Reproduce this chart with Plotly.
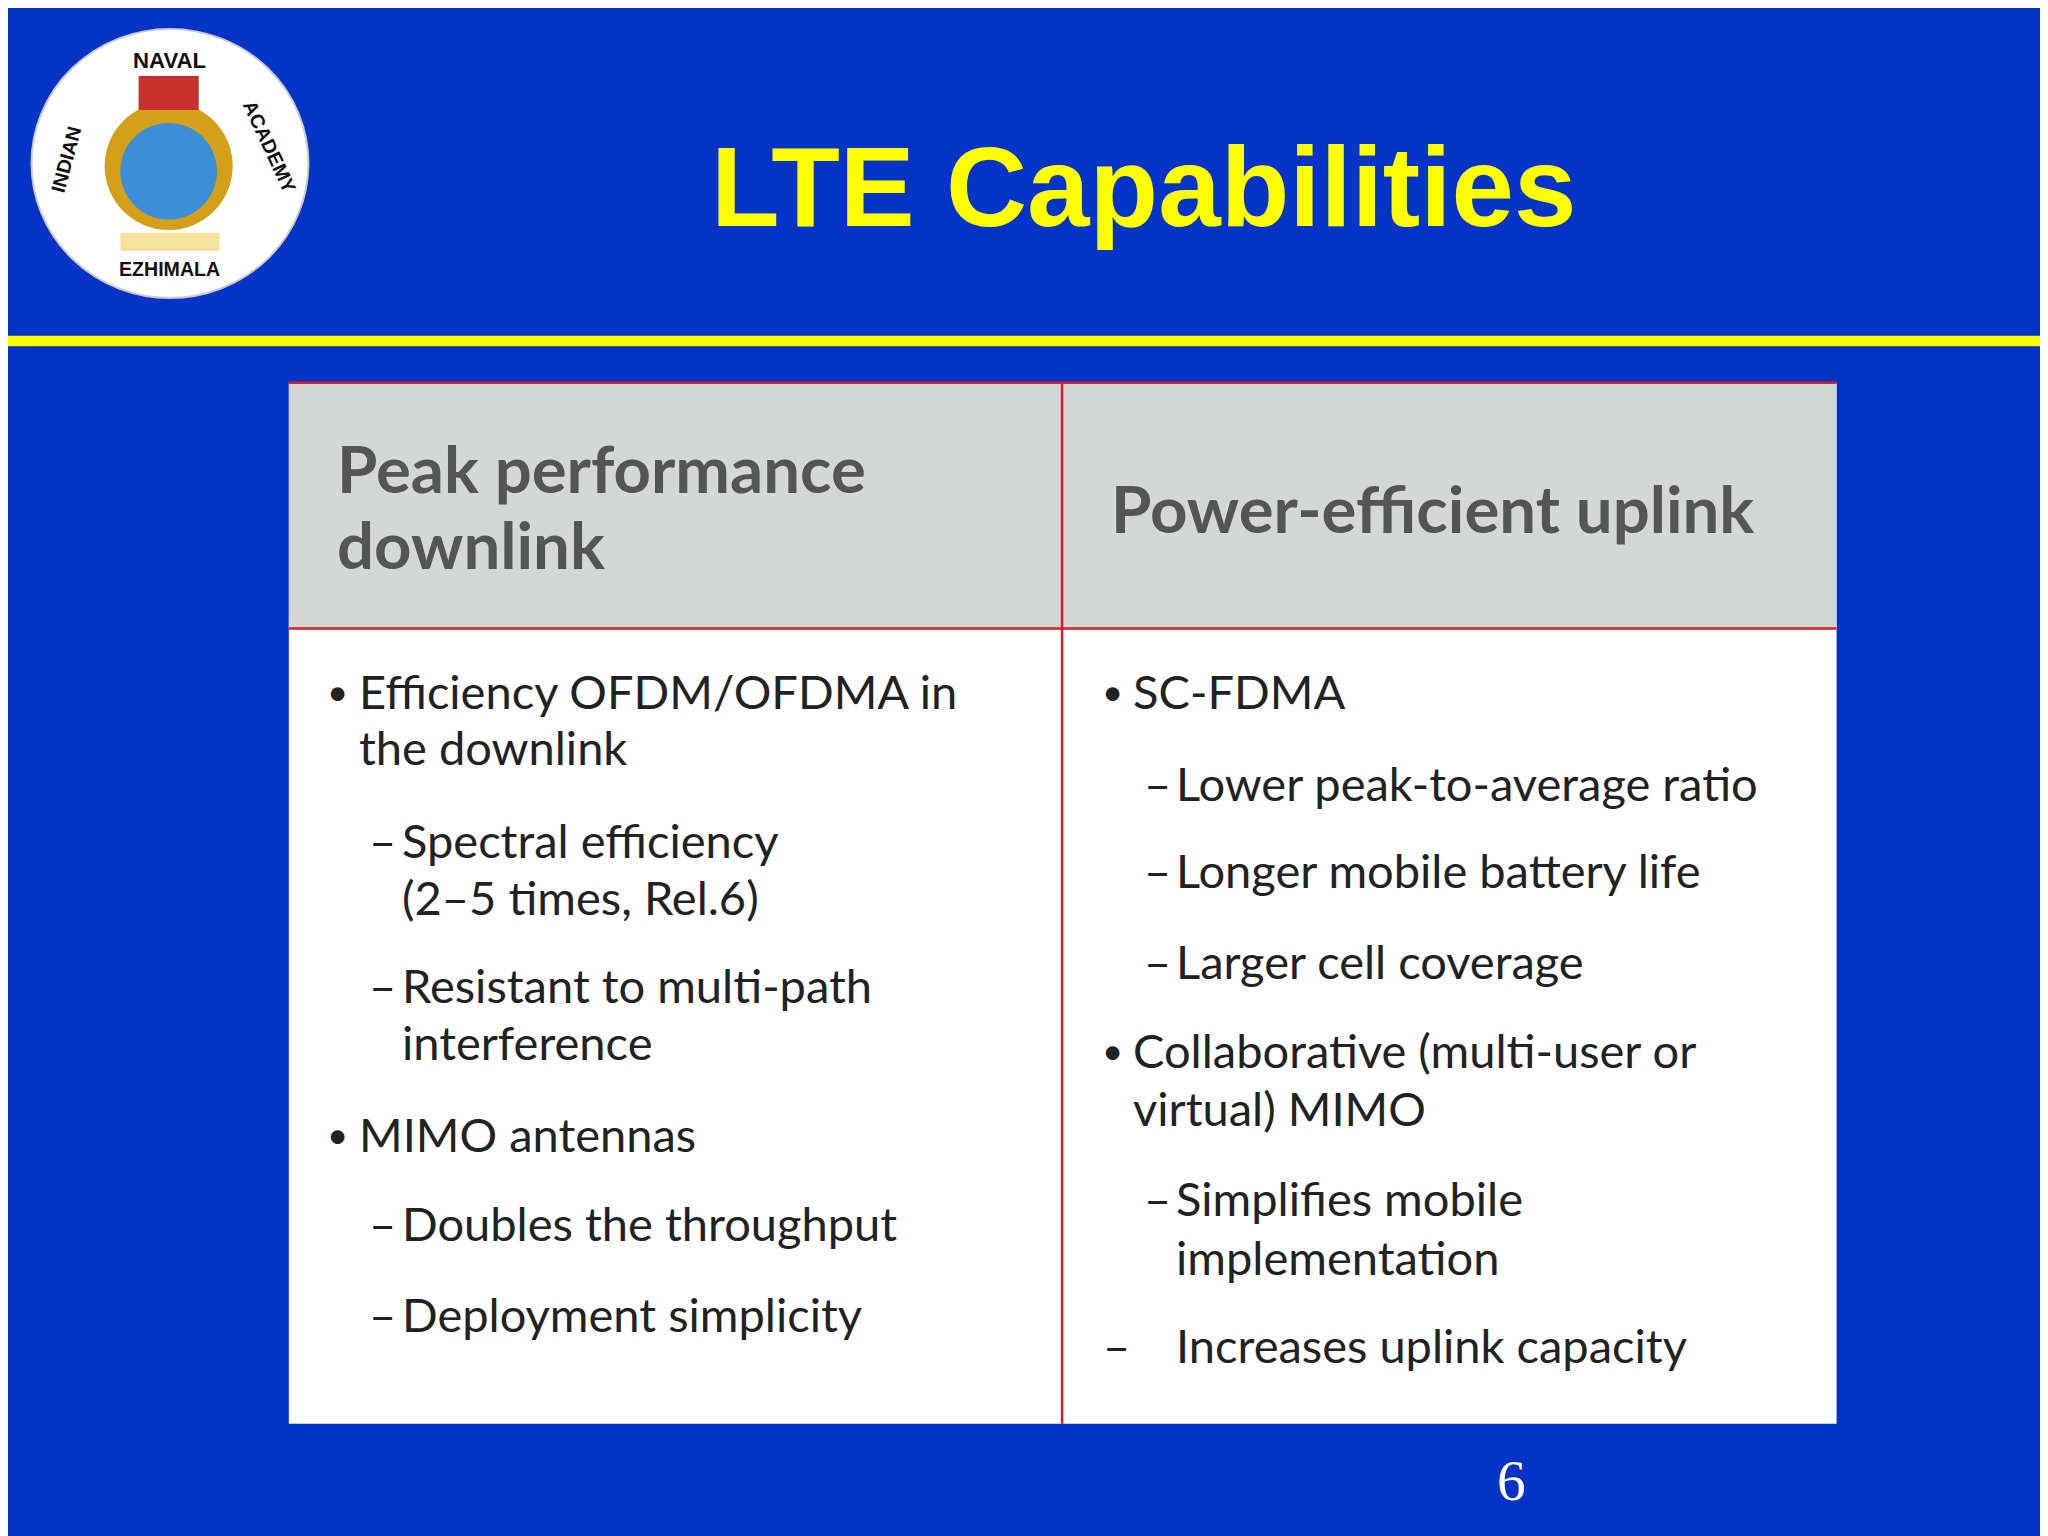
import plotly.graph_objects as go

W, H = 1568, 1176
S = 2048 / 1568
OFF = 6  # compensate page margin

title = "LTE Capabilities"
headers = [["Peak performance", "downlink"], ["Power-efficient uplink"]]
header_y = [[358, 416], [389]]
left_items = [("•", ["Efficiency OFDM/OFDMA in", "the downlink"], [529, 572]),
              ("–", ["Spectral efficiency", "(2–5 times, Rel.6)"], [643, 687]),
              ("–", ["Resistant to multi-path", "interference"], [754, 798]),
              ("•", ["MIMO antennas"], [868]),
              ("–", ["Doubles the throughput"], [936]),
              ("–", ["Deployment simplicity"], [1006])]
right_items = [("•", ["SC-FDMA"], [529]),
               ("–", ["Lower peak-to-average ratio"], [599]),
               ("–", ["Longer mobile battery life"], [666]),
               ("–", ["Larger cell coverage"], [736]),
               ("•", ["Collaborative (multi-user or", "virtual) MIMO"], [804, 848]),
               ("–", ["Simplifies mobile", "implementation"], [917, 962]),
               ("–w", ["Increases uplink capacity"], [1030])]
page_number = "6"

fig = go.Figure()
shapes = []
ann = []
BLUE = "#0433c8"
shapes.append(dict(type="rect", x0=-20, x1=W + 20, y0=-20, y1=H + 20, fillcolor=BLUE, line_width=0, layer="below"))
shapes.append(dict(type="rect", x0=-20, x1=W + 20, y0=257, y1=265, fillcolor="#ffff00", line_width=0))
# logo
shapes.append(dict(type="circle", x0=24, x1=236, y0=22, y1=228, fillcolor="white", line=dict(color="#cccccc", width=2)))
shapes.append(dict(type="circle", x0=80, x1=178, y0=78, y1=176, fillcolor="#d4a017", line_width=0))
shapes.append(dict(type="circle", x0=92, x1=166, y0=94, y1=168, fillcolor="#3a8fd8", line_width=0))
shapes.append(dict(type="rect", x0=106, x1=152, y0=58, y1=84, fillcolor="#c8302c", line_width=0))
shapes.append(dict(type="rect", x0=92, x1=168, y0=178, y1=192, fillcolor="#f2e49a", line_width=0))
ann.append(dict(x=130, y=46, text="<b>NAVAL</b>", showarrow=False, font=dict(size=17*S, color="#111", family="Liberation Sans")))
ann.append(dict(x=130, y=206, text="<b>EZHIMALA</b>", showarrow=False, font=dict(size=15*S, color="#111", family="Liberation Sans")))
ann.append(dict(x=50, y=122, text="<b>INDIAN</b>", textangle=-75, showarrow=False, font=dict(size=15*S, color="#111", family="Liberation Sans")))
ann.append(dict(x=206, y=112, text="<b>ACADEMY</b>", textangle=65, showarrow=False, font=dict(size=15*S, color="#111", family="Liberation Sans")))
# title
ann.append(dict(x=875, y=143, text="<b>" + title + "</b>", showarrow=False, font=dict(size=86*S, color="#ffff00", family="Liberation Sans")))
# table
shapes.append(dict(type="rect", x0=221, x1=1406, y0=293, y1=1090, fillcolor="white", line_width=0))
shapes.append(dict(type="rect", x0=221, x1=1406, y0=293, y1=481, fillcolor="#d5d6d6", line_width=0))
for y in (293, 481):
    shapes.append(dict(type="line", x0=221, x1=1406, y0=y, y1=y, line=dict(color="#d42020", width=2.5)))
shapes.append(dict(type="line", x0=813, x1=813, y0=293, y1=1090, line=dict(color="#d42020", width=2.5)))
for hx, lines, ys in [(256, headers[0], header_y[0]), (849, headers[1], header_y[1])]:
    for t, y in zip(lines, ys):
        ann.append(dict(x=hx, y=y, xanchor="left", text="<b>" + t + "</b>", showarrow=False,
                        font=dict(size=50*S, color="#555555", family="Lato")))

def add(items, bx):
    for mark, lines, ys in items:
        if mark == "•":
            mx, tx = bx + 2, bx + 26
        elif mark == "–":
            mx, tx = bx + 34, bx + 59
        else:
            mx, tx = bx + 3, bx + 59
        ann.append(dict(x=mx, y=ys[0], text=mark[0], xanchor="left", showarrow=False,
                        font=dict(size=(28 if mark == "•" else 36)*S, color="#222", family="Lato")))
        for t, y in zip(lines, ys):
            ann.append(dict(x=tx, y=y, text=t, xanchor="left", showarrow=False,
                            font=dict(size=36*S, color="#222", family="Lato")))
add(left_items, 247)
add(right_items, 840)
ann.append(dict(x=1157, y=1133, text=page_number, showarrow=False, font=dict(size=44*S, color="white", family="Liberation Serif")))

fig.update_layout(width=2048, height=1536, margin=dict(l=0, r=0, t=0, b=0),
                  paper_bgcolor=BLUE, plot_bgcolor=BLUE, shapes=shapes, annotations=ann,
                  xaxis=dict(range=[OFF, W + OFF], visible=False, fixedrange=True),
                  yaxis=dict(range=[H + OFF, OFF], visible=False, fixedrange=True), showlegend=False)
fig.write_html("out.html", config={"displayModeBar": False})
